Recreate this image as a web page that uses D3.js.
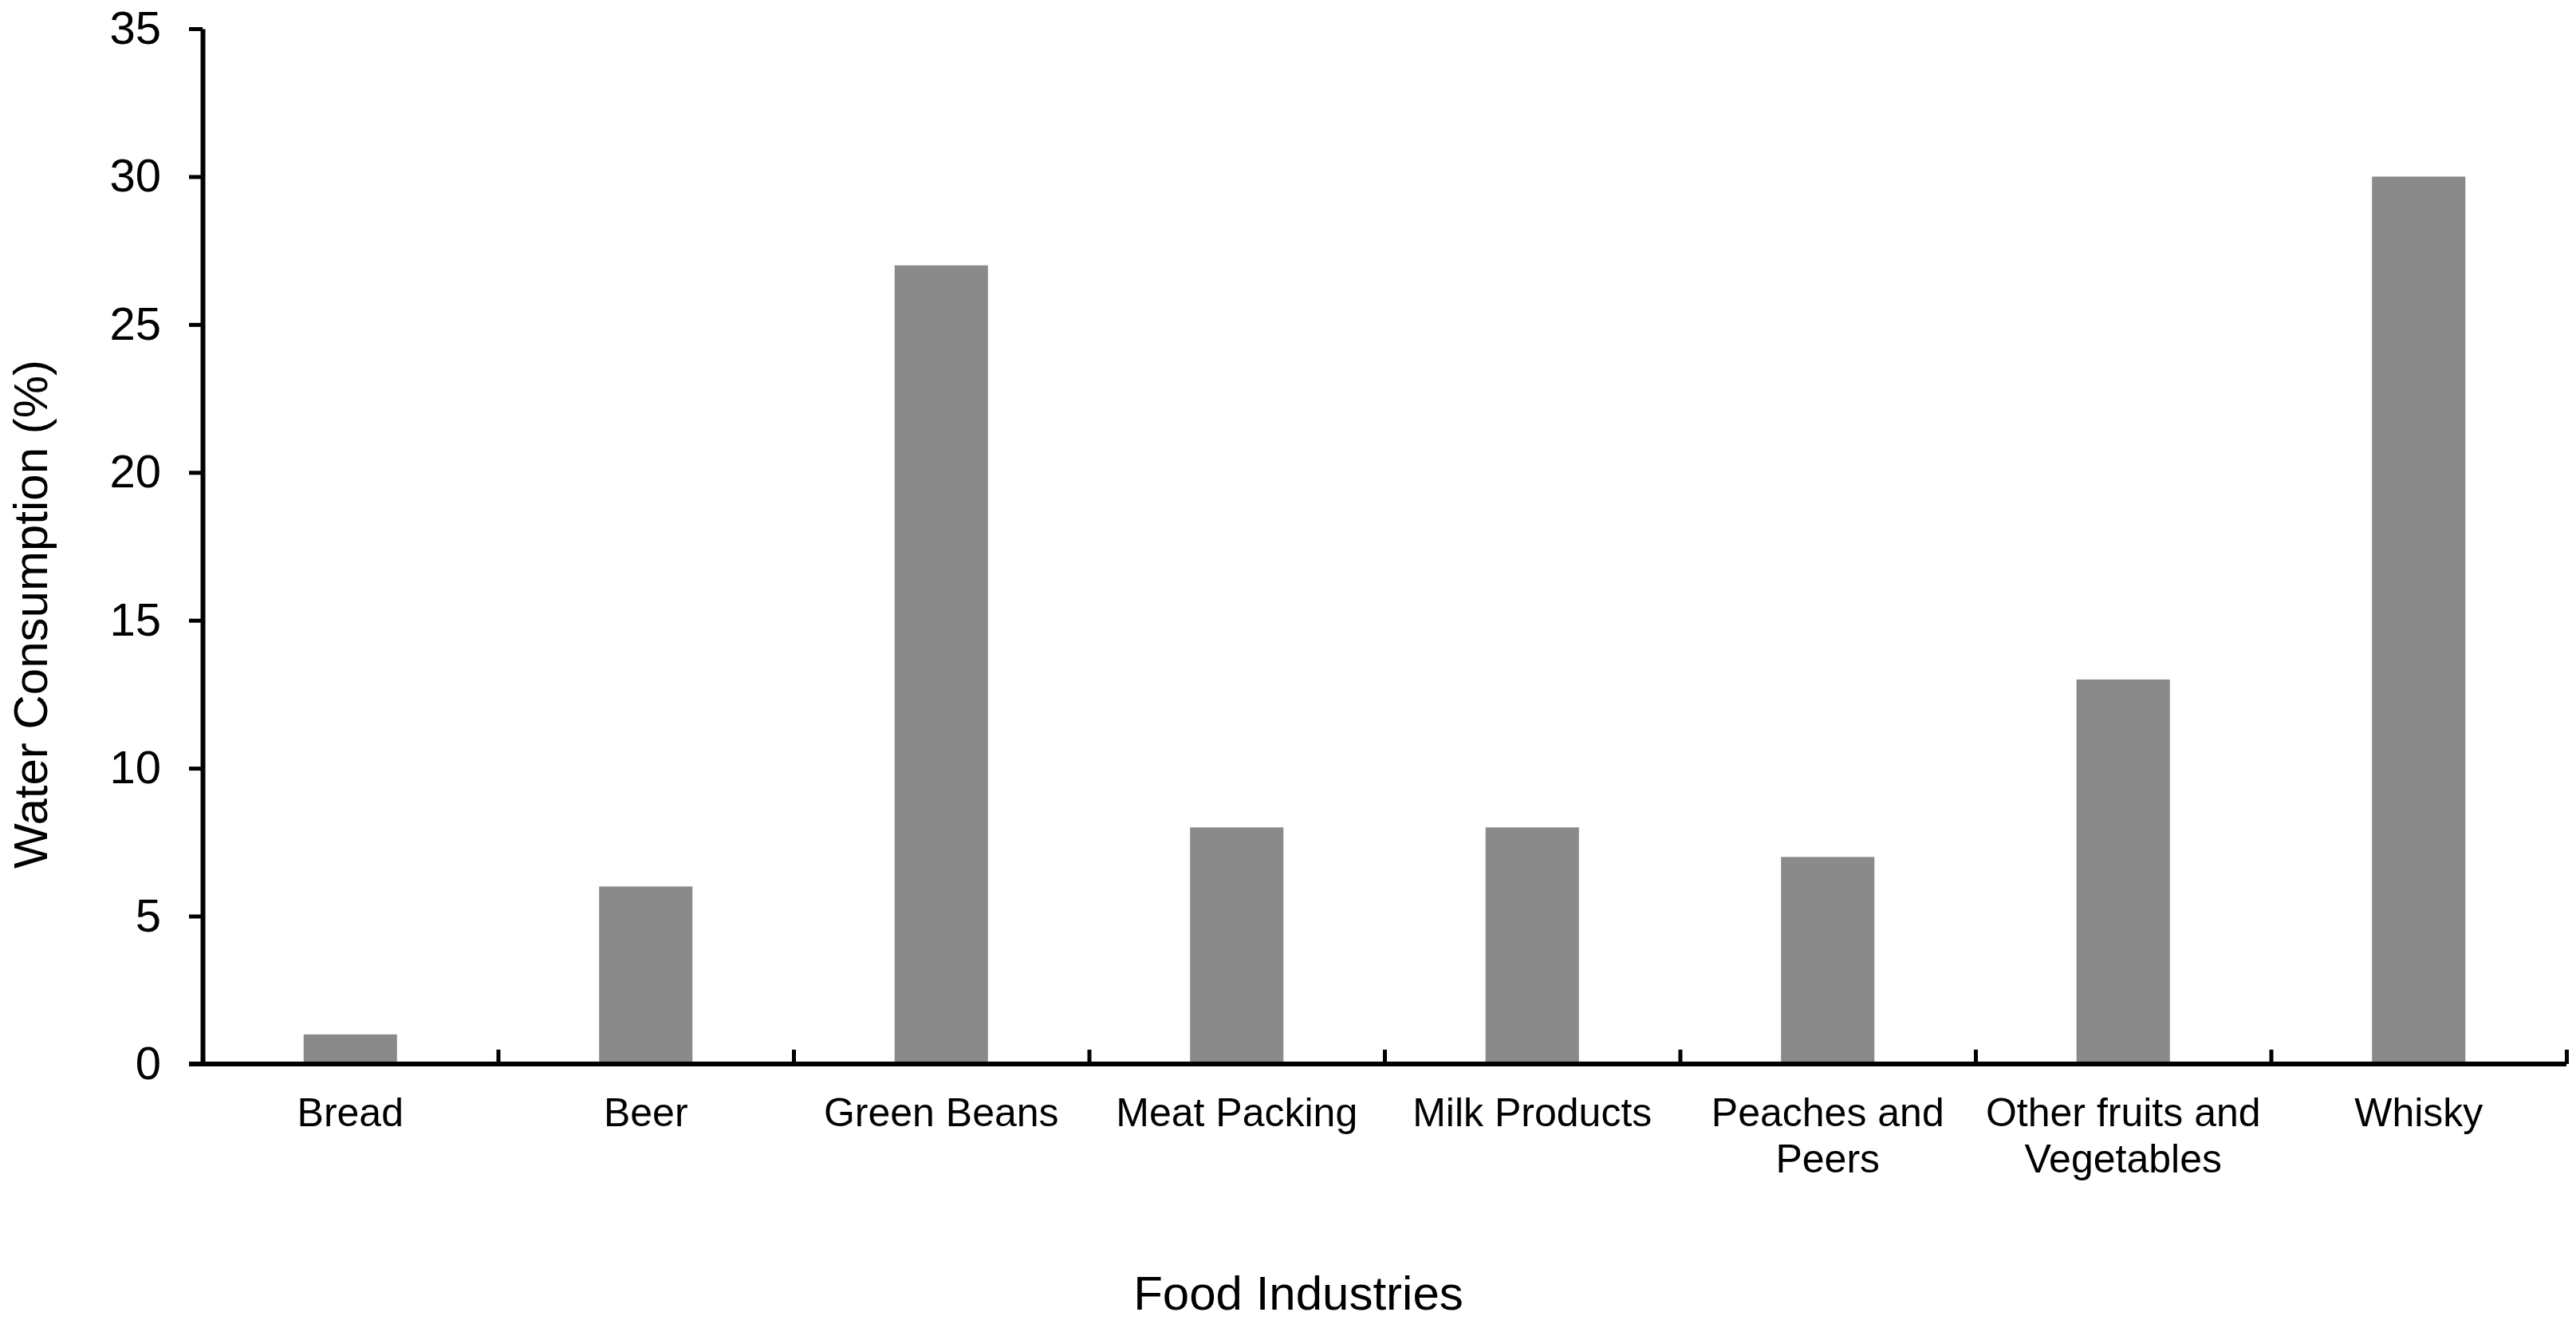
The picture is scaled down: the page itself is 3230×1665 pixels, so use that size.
<!DOCTYPE html>
<html>
<head>
<meta charset="utf-8">
<script src="https://cdn.jsdelivr.net/npm/d3@7"></script>
<style>
    body {
        margin: 0;
        background: #ffffff;
    }

    svg text {
        font-family: "Liberation Sans", Arial, Helvetica, sans-serif;
        fill: #000;
    }

    .axis path,
    .axis line {
        stroke: #000;
    }
</style>
</head>
<body>
<svg id="chart" width="3230" height="1665"></svg>

<script>
    // food industries and their water consumption share (%)
    const industries = [
        "Bread",
        "Beer",
        "Green Beans",
        "Meat Packing",
        "Milk Products",
        "Peaches and Peers",
        "Other fruits and Vegetables",
        "Whisky",
    ];
    const consumption = [1, 6, 27, 8, 8, 7, 13, 30];
    const yTicks = [0, 5, 10, 15, 20, 25, 30, 35];

    const data = industries.map((name, i) => ({ name, value: consumption[i] }));

    const svg = d3.select("#chart");
    const plotLeft = 254,
        plotRight = 3218,
        plotTop = 36,
        plotBottom = 1334;

    const x = d3
        .scaleBand()
        .domain(industries)
        .range([plotLeft, plotRight])
        .paddingInner(0.684)
        .paddingOuter(0.342);

    // category boundaries, for the upward ticks along the x axis
    const edges = d3
        .scaleLinear()
        .domain([0, industries.length])
        .range([plotLeft, plotRight]);

    const y = d3.scaleLinear().domain([0, 35]).range([plotBottom, plotTop]);

    // bars
    svg.append("g")
        .selectAll("rect")
        .data(data)
        .join("rect")
        .attr("x", (d) => x(d.name))
        .attr("y", (d) => y(d.value))
        .attr("width", x.bandwidth())
        .attr("height", (d) => y(0) - y(d.value))
        .attr("fill", "#8a8a8a");

    // y axis
    const yAxis = svg
        .append("g")
        .attr("class", "axis")
        .attr("transform", `translate(${plotLeft},0)`)
        .call(
            d3
                .axisLeft(y)
                .tickValues(yTicks)
                .tickSize(17)
                .tickSizeOuter(0)
                .tickPadding(35)
        );
    yAxis.select(".domain").attr("stroke-width", 6);
    yAxis.selectAll(".tick line").attr("stroke-width", 5);
    yAxis.selectAll(".tick text").attr("font-size", 58);

    // boundary ticks pointing up
    const edgeAxis = svg
        .append("g")
        .attr("class", "axis")
        .attr("transform", `translate(0,${plotBottom})`)
        .call(
            d3
                .axisBottom(edges)
                .tickValues(d3.range(1, industries.length + 1))
                .tickSize(-18)
                .tickSizeOuter(0)
                .tickFormat("")
        );
    edgeAxis.select(".domain").remove();
    edgeAxis.selectAll(".tick line").attr("stroke-width", 5);

    // x axis with category labels
    const xAxis = svg
        .append("g")
        .attr("class", "axis")
        .attr("transform", `translate(0,${plotBottom})`)
        .call(d3.axisBottom(x).tickSize(0).tickPadding(42));
    xAxis
        .select(".domain")
        .attr("d", `M${plotLeft - 17},0H${plotRight}`)
        .attr("stroke-width", 6);
    xAxis.selectAll(".tick text").attr("font-size", 50).call(wrap, 360);

    function wrap(text, width) {
        text.each(function () {
            const t = d3.select(this);
            const words = t.text().split(/\s+/);
            const yPos = t.attr("y");
            const dy = parseFloat(t.attr("dy"));
            let line = [];
            let lineNo = 0;
            let tspan = t
                .text(null)
                .append("tspan")
                .attr("x", 0)
                .attr("y", yPos)
                .attr("dy", dy + "em");
            words.forEach((w) => {
                line.push(w);
                tspan.text(line.join(" "));
                if (tspan.node().getComputedTextLength() > width && line.length > 1) {
                    line.pop();
                    tspan.text(line.join(" "));
                    line = [w];
                    tspan = t
                        .append("tspan")
                        .attr("x", 0)
                        .attr("y", yPos)
                        .attr("dy", ++lineNo * 1.16 + dy + "em")
                        .text(w);
                }
            });
        });
    }

    // axis titles
    svg.append("text")
        .attr("x", 1628)
        .attr("y", 1642)
        .attr("text-anchor", "middle")
        .attr("font-size", 60)
        .text("Food Industries");

    svg.append("text")
        .attr("transform", "translate(59,770) rotate(-90)")
        .attr("text-anchor", "middle")
        .attr("font-size", 60)
        .text("Water Consumption (%)");
</script>
</body>
</html>
